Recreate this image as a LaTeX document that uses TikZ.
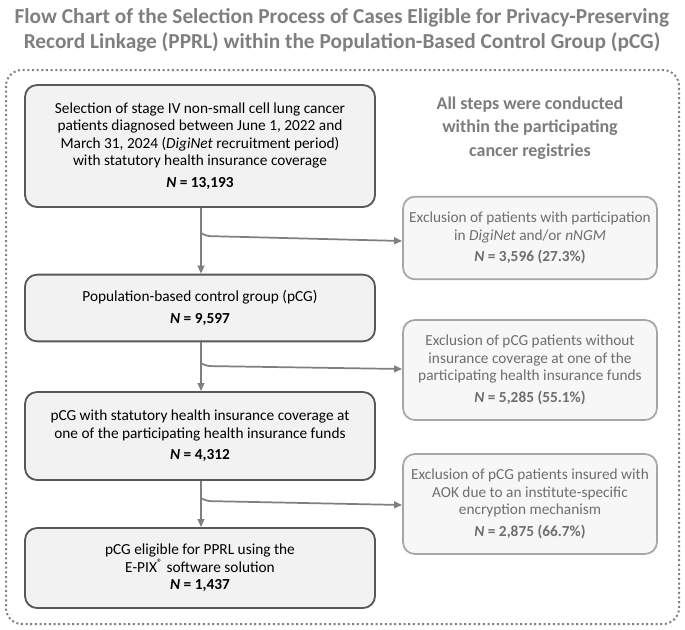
\documentclass[tikz,border=0pt]{standalone}
\usepackage{fontspec}
\setmainfont{Carlito}
\usetikzlibrary{arrows.meta}
\usetikzlibrary{positioning}
\definecolor{titlegray}{HTML}{7F7F7F}
\definecolor{boxfill}{HTML}{F2F2F2}
\definecolor{boxline}{HTML}{595959}
\definecolor{sideline}{HTML}{A6A6A6}
\definecolor{sidetext}{HTML}{6E6E6E}
\definecolor{arrowgray}{HTML}{7F7F7F}
\begin{document}
\begin{tikzpicture}[x=0.75pt,y=-0.75pt,
    mainbox/.style={draw=boxline,line width=1.4pt,fill=boxfill,rounded corners=9pt,
      minimum width=262.5pt,align=center,font=\fontsize{11.5}{13.2}\selectfont,inner sep=0pt},
    sidebox/.style={draw=sideline,line width=1.3pt,fill=boxfill!60,rounded corners=9pt,
      minimum width=190.5pt,align=center,text=sidetext,font=\fontsize{11.5}{13.2}\selectfont,inner sep=0pt},
    flow/.style={draw=arrowgray,line width=1.3pt,-{Triangle[length=6pt,width=5pt]}},
    branch/.style={draw=arrowgray,line width=1.3pt,rounded corners=4pt,-{Triangle[length=6pt,width=5pt]}}]
  \useasboundingbox (0,0) rectangle (685,629);
  \node (title) at (342,30) [text=titlegray,align=center,font=\fontsize{16}{19}\bfseries\selectfont]
    {Flow Chart of the Selection Process of Cases Eligible for Privacy-Preserving\\
     Record Linkage (PPRL) within the Population-Based Control Group (pCG)};
  \draw[titlegray,line width=1.5pt,dotted,rounded corners=12pt] (6,70) rectangle (679,624);
  \node (note) at (530,128) [text=sidetext!90,align=center,font=\fontsize{13.5}{17.5}\bfseries\selectfont]
    {All steps were conducted\\within the participating\\cancer registries};
  % left column
  \node (sel) [mainbox,minimum height=91.5pt] at (200,146)
    {Selection of stage IV non-small cell lung cancer\\patients diagnosed between June 1, 2022 and\\
     March 31, 2024 (\textit{DigiNet} recruitment period)\\with statutory health insurance coverage\\[3pt]
     \textbf{\textit{N}~=~13,193}};
  \node (pcg) [mainbox,minimum height=50pt] at (200,308)
    {Population-based control group (pCG)\\[3pt]\textbf{\textit{N}~=~9,597}};
  \node (ins) [mainbox,minimum height=66pt] at (200,436)
    {pCG with statutory health insurance coverage at\\one of the participating health insurance funds\\[3pt]
     \textbf{\textit{N}~=~4,312}};
  \node (pprl) [mainbox,minimum height=60pt] at (200,568)
    {pCG eligible for PPRL using the\\E-PIX\textsuperscript{\textregistered} software solution\\
     \textbf{\textit{N}~=~1,437}};
  % exclusions
  \node (ex1) [sidebox,minimum height=62pt] at (530,238)
    {Exclusion of patients with participation\\in \textit{DigiNet} and/or \textit{nNGM}\\[3pt]
     \textbf{\textit{N}~=~3,596 (27.3\%)}};
  \node (ex2) [sidebox,minimum height=75pt] at (530,370)
    {Exclusion of pCG patients without\\insurance coverage at one of the\\participating health insurance funds\\[3pt]
     \textbf{\textit{N}~=~5,285 (55.1\%)}};
  \node (ex3) [sidebox,minimum height=75pt] at (530,504)
    {Exclusion of pCG patients insured with\\AOK due to an institute-specific\\encryption mechanism\\[3pt]
     \textbf{\textit{N}~=~2,875 (66.7\%)}};
  % arrows
  \draw[flow] (sel.south -| 201,0) -- (pcg.north -| 201,0);
  \draw[flow] (pcg.south -| 201,0) -- (ins.north -| 201,0);
  \draw[flow] (ins.south -| 201,0) -- (pprl.north -| 201,0);
  \coordinate (b1) at (201,233);
  \coordinate (b2) at (201,363);
  \coordinate (b3) at (201,498);
  \draw[branch] (b1) -- ++(4,3) -- (ex1.west |- 0,241);
  \draw[branch] (b2) -- ++(4,3) -- (ex2.west |- 0,369);
  \draw[branch] (b3) -- ++(4,3) -- (ex3.west |- 0,505);
\end{tikzpicture}
\end{document}
